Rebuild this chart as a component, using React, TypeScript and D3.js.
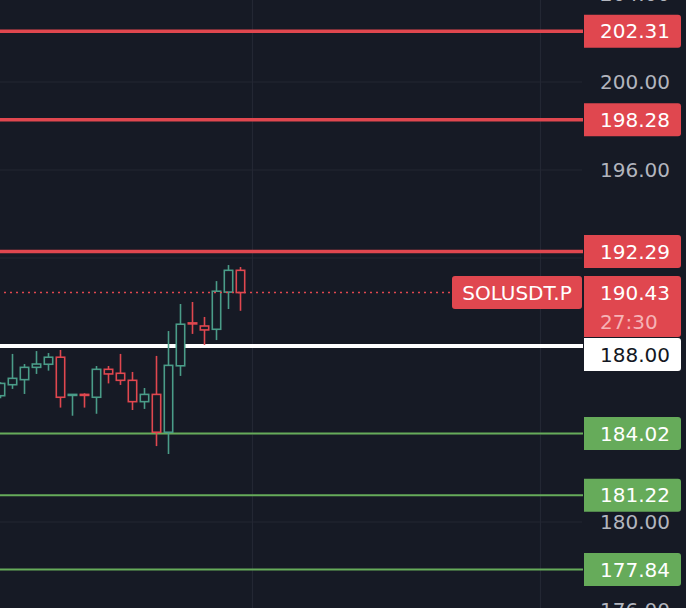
import React from "react";
import * as d3 from "d3";

const opens = [185.74, 186.24, 186.47, 187.03, 187.17, 187.49, 185.77, 185.8, 185.67, 186.94, 186.76, 186.44, 185.47, 185.8, 184.08, 187.1, 189.05, 188.91, 188.76, 190.45, 191.44];
const highs = [186.35, 187.64, 187.18, 187.77, 187.68, 187.82, 185.81, 185.85, 187.09, 187.09, 187.64, 186.82, 186.09, 187.55, 188.68, 189.91, 190.0, 189.32, 190.95, 191.68, 191.59];
const lows = [185.62, 186.05, 185.82, 186.73, 186.88, 185.2, 184.83, 185.2, 184.92, 186.3, 186.23, 185.09, 185.14, 183.45, 183.09, 186.64, 188.55, 188.05, 188.27, 189.68, 189.6];
const closes = [186.3, 186.53, 187.03, 187.18, 187.49, 185.67, 185.8, 185.76, 186.94, 186.73, 186.44, 185.47, 185.8, 184.08, 187.12, 188.99, 189.02, 188.73, 190.49, 191.44, 190.43];

const resistanceLevels = [202.31, 198.28, 192.29];
const supportLevels = [184.02, 181.22, 177.84];
const keyLevel = 188.0;
const lastPrice = 190.43;
const symbol = "SOLUSDT.P";
const countdown = "27:30";
const tickValues = [176, 180, 184, 188, 192, 196, 200, 204];
const timeGridIndex = [21, 45];

const W = 686;
const H = 608;
const PLOT_R = 582;
const BG = "#161a25";
const GRID = "#232733";
const RED = "#e0474f";
const GREEN_LVL = "#66ab5a";
const TEAL = "#4a9c88";
const TICK_TXT = "#b2b5be";
const FONT = "'DejaVu Sans', sans-serif";
const LABEL_X = 584;
const LABEL_W = 97;
const LABEL_H = 33;

function rightRounded(x: number, y: number, w: number, h: number, r: number) {
  const p = d3.path();
  p.moveTo(x, y);
  p.lineTo(x + w - r, y);
  p.arcTo(x + w, y, x + w, y + r, r);
  p.lineTo(x + w, y + h - r);
  p.arcTo(x + w, y + h, x + w - r, y + h, r);
  p.lineTo(x, y + h);
  p.closePath();
  return p.toString();
}

export default function App() {
  const y = d3.scaleLinear().domain([176, 204]).range([610, -6]);
  const x = d3.scaleLinear().domain([0, 20]).range([0.5, 240.5]);
  const bodyW = 8.4;

  const labels: { v: number; fill: string; color: string; top: number }[] = [];
  resistanceLevels.forEach((v) => labels.push({ v, fill: RED, color: "#fff", top: y(v) - LABEL_H / 2 }));
  supportLevels.forEach((v) => labels.push({ v, fill: GREEN_LVL, color: "#fff", top: y(v) - LABEL_H / 2 }));

  const priceTop = y(lastPrice) - LABEL_H / 2;
  const priceBottom = priceTop + 61;
  const keyTop = Math.max(y(keyLevel) - LABEL_H / 2, priceBottom + 1);

  const labelCenters = [...resistanceLevels, ...supportLevels, keyLevel, lastPrice].map((v) => y(v));
  const visibleTicks = tickValues.filter((t) => labelCenters.every((c) => Math.abs(c - y(t)) > 22));

  return (
    <svg width={W} height={H} style={{ position: "fixed", left: 0, top: 0, display: "block" }} fontFamily={FONT}>
      <rect x={0} y={0} width={W} height={H} fill={BG} />
      {tickValues.map((t) => (
        <line key={"g" + t} x1={0} x2={PLOT_R} y1={y(t)} y2={y(t)} stroke={GRID} strokeWidth={1.2} />
      ))}
      {timeGridIndex.map((i) => (
        <line key={"v" + i} x1={x(i)} x2={x(i)} y1={0} y2={H} stroke={GRID} strokeWidth={1.2} />
      ))}

      {/* level lines */}
      {resistanceLevels.map((v) => (
        <line key={"r" + v} x1={0} x2={PLOT_R + 1} y1={y(v)} y2={y(v)} stroke={RED} strokeWidth={3.5} />
      ))}
      {supportLevels.map((v) => (
        <line key={"s" + v} x1={0} x2={PLOT_R + 1} y1={y(v)} y2={y(v)} stroke={GREEN_LVL} strokeWidth={2} />
      ))}
      <line x1={0} x2={PLOT_R + 1} y1={y(keyLevel)} y2={y(keyLevel)} stroke="#ffffff" strokeWidth={4} />

      {/* candles */}
      {closes.map((c, i) => {
        const o = opens[i];
        const up = c >= o;
        const col = up ? TEAL : RED;
        const cx = x(i);
        const top = y(Math.max(o, c));
        const bot = y(Math.min(o, c));
        const h = Math.max(bot - top, 1);
        return (
          <g key={"c" + i}>
            <line x1={cx} x2={cx} y1={y(highs[i])} y2={top} stroke={col} strokeWidth={1.6} />
            <line x1={cx} x2={cx} y1={top + h} y2={y(lows[i])} stroke={col} strokeWidth={1.6} />
            <rect x={cx - bodyW / 2} y={top} width={bodyW} height={h} fill={BG} stroke={col} strokeWidth={1.6} />
          </g>
        );
      })}

      {/* last price dotted line */}
      <line x1={4} x2={PLOT_R} y1={y(lastPrice)} y2={y(lastPrice)} stroke={RED} strokeWidth={1.4} strokeDasharray="2 4" />

      {/* tick labels */}
      {visibleTicks.map((t) => (
        <text key={"tl" + t} x={600} y={y(t) + 7.3} fill={TICK_TXT} fontSize={20}>
          {t.toFixed(2)}
        </text>
      ))}

      {/* level labels */}
      {labels.map((l) => (
        <g key={"l" + l.v}>
          <path d={rightRounded(LABEL_X, l.top, LABEL_W, LABEL_H, 3)} fill={l.fill} />
          <text x={600} y={l.top + LABEL_H / 2 + 7.3} fill={l.color} fontSize={20}>
            {l.v.toFixed(2)}
          </text>
        </g>
      ))}

      {/* key level label */}
      <path d={rightRounded(LABEL_X, keyTop, LABEL_W, LABEL_H, 3)} fill="#ffffff" />
      <text x={600} y={keyTop + LABEL_H / 2 + 7.3} fill="#131722" fontSize={20}>
        {keyLevel.toFixed(2)}
      </text>

      {/* symbol label */}
      <rect x={452} y={priceTop} width={130} height={LABEL_H} rx={3} fill={RED} />
      <text x={517} y={priceTop + LABEL_H / 2 + 7.3} fill="#fff" fontSize={20} textAnchor="middle">
        {symbol}
      </text>

      {/* last price label */}
      <path d={rightRounded(LABEL_X, priceTop, LABEL_W, priceBottom - priceTop, 3)} fill={RED} />
      <text x={600} y={priceTop + LABEL_H / 2 + 7.3} fill="#fff" fontSize={20}>
        {lastPrice.toFixed(2)}
      </text>
      <text x={600} y={priceTop + 46 + 7.3} fill="#f6b3b6" fontSize={20}>
        {countdown}
      </text>
    </svg>
  );
}
